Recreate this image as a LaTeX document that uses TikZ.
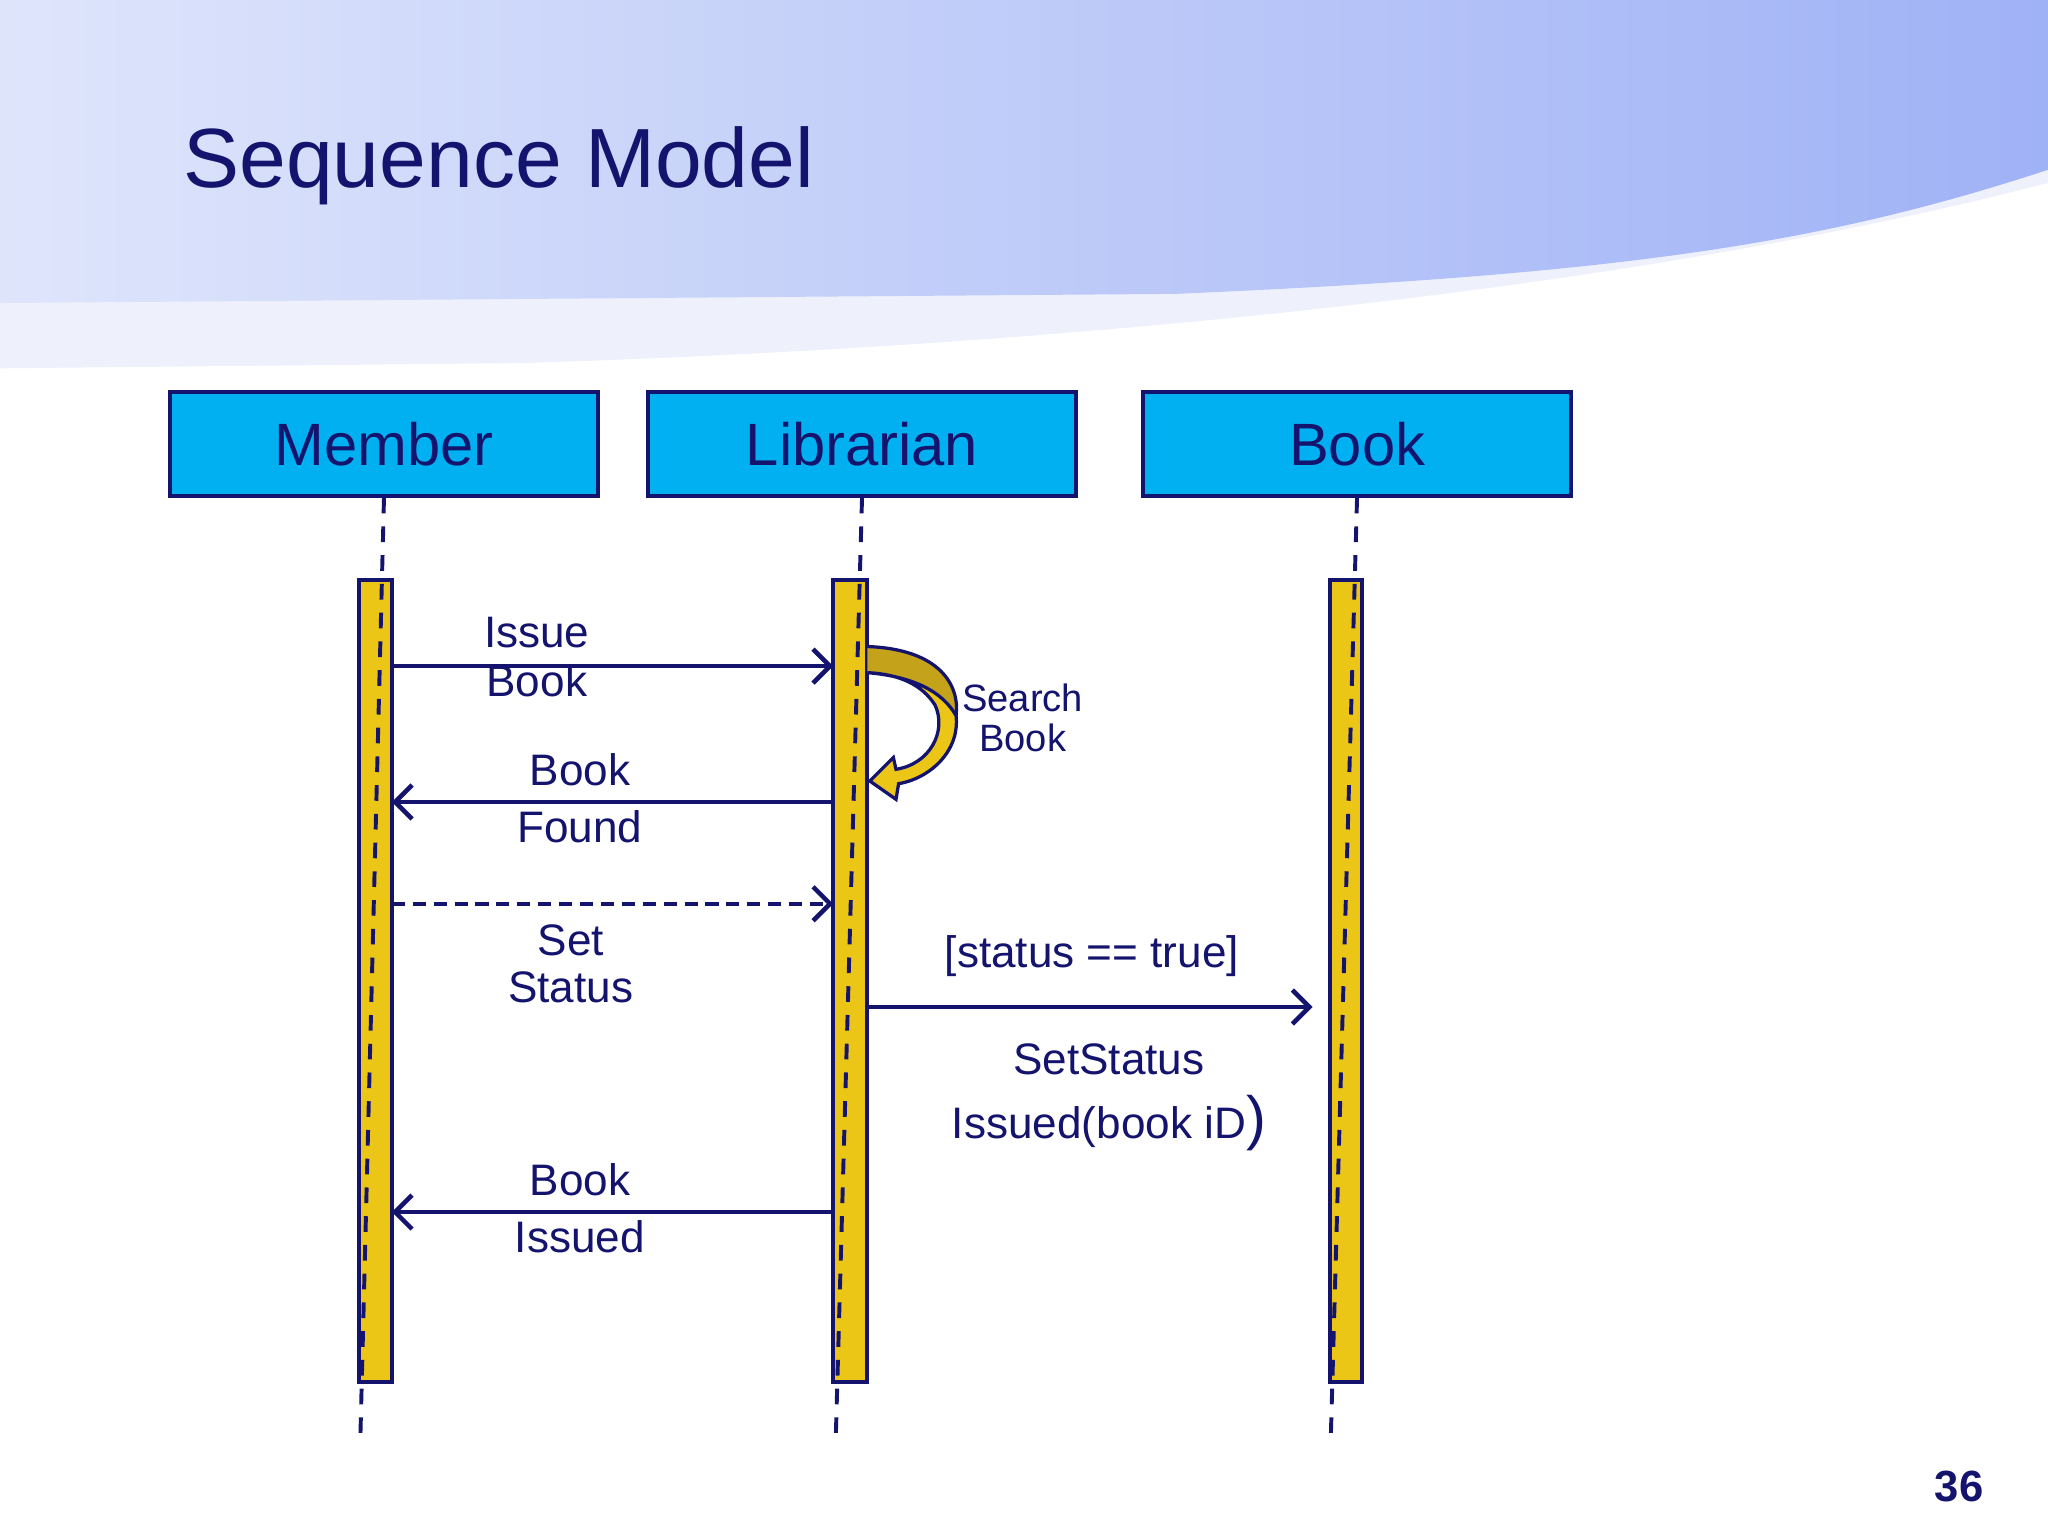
\documentclass[tikz,border=0pt]{standalone}
\usepackage{fontspec}
\setmainfont{Liberation Sans}
\usetikzlibrary{arrows.meta}
\definecolor{navy}{HTML}{14146E}
\definecolor{cyanbox}{HTML}{00B0F0}
\definecolor{ybar}{HTML}{ECC617}
\definecolor{olive}{HTML}{C4A21A}
\begin{document}
\begin{tikzpicture}[x=0.01cm,y=-0.01cm,
  obj/.style={draw=navy,line width=0.03cm,fill=cyanbox,minimum width=3.27cm,minimum height=0.79cm,text=navy,font=\fontsize{13}{15}\selectfont},
  bar/.style={draw=navy,line width=0.03cm,fill=ybar},
  life/.style={navy,line width=0.03cm,dash pattern=on 0.12cm off 0.1cm},
  msg/.style={navy,line width=0.035cm,-{Straight Barb[length=0.13cm,width=0.26cm]}},
  lbl/.style={text=navy,font=\fontsize{9.6}{11}\selectfont,align=center}]
\useasboundingbox (0,0) rectangle (1568,1176);
% background
\fill[white] (0,0) rectangle (1568,1176);
\fill[color={rgb,255:red,238;green,241;blue,252}] (0,225) -- (0,282) -- (400,278) .. controls (900,262) and (1300,210) .. (1568,140) -- (1568,120) -- cycle;
\shade[left color={rgb,255:red,222;green,229;blue,251},right color={rgb,255:red,160;green,178;blue,246}] (0,0) -- (1568,0) -- (1568,130) .. controls (1400,185) and (1250,210) .. (900,225) -- (0,232) -- cycle;
\node[anchor=west,text=navy,font=\fontsize{18.3}{22}\selectfont] (title) at (128,127) {Sequence Model};
% objects
\node[obj] (m) at (294,340) {Member};
\node[obj] (l) at (660,340) {Librarian};
\node[obj] (b) at (1039,340) {Book};
% bars
\draw[bar] (275,444) rectangle (300,1058);
\draw[bar] (638,444) rectangle (664,1058);
\draw[bar] (1018,444) rectangle (1043,1058);
\coordinate (me) at (276,1097);
\coordinate (le) at (640,1097);
\coordinate (be) at (1019,1097);
\draw[life] (m.south) -- (me);
\draw[life] (l.south) -- (le);
\draw[life] (b.south) -- (be);
% messages
\coordinate (a1) at (300,510); \coordinate (a2) at (638,510);
\draw[msg] (a1) -- (a2);
\node[lbl] at (411,484) {Issue};
\node[lbl] at (411,521) {Book};
\coordinate (b1) at (638,614); \coordinate (b2) at (300,614);
\draw[msg] (b1) -- (b2);
\node[lbl] at (444,589) {Book};
\node[lbl] at (444,633) {Found};
\coordinate (c1) at (300,692); \coordinate (c2) at (638,692);
\draw[msg,dash pattern=on 0.1cm off 0.06cm] (c1) -- (c2);
\node[lbl] at (437,720) {Set};
\node[lbl] at (437,756) {Status};
\coordinate (d1) at (664,771); \coordinate (d2) at (1005,771);
\draw[msg] (d1) -- (d2);
\node[lbl] at (836,732) {[status == true]};
\node[lbl] at (849,811) {SetStatus};
\node[lbl] at (849,860) {Issued(book iD{\fontsize{13}{13}\selectfont)}};
\coordinate (e1) at (638,928); \coordinate (e2) at (300,928);
\draw[msg] (e1) -- (e2);
\node[lbl] at (444,903) {Book};
\node[lbl] at (444,947) {Issued};
% self call
\fill[olive] (664,495) .. controls (720,497) and (735,525) .. (732,548) .. controls (722,530) and (700,518) .. (664,515) -- cycle;
\draw[navy,line width=0.025cm,fill=ybar] (664,515) .. controls (700,518) and (722,530) .. (732,548) .. controls (735,575) and (712,596) .. (688,600) -- (686,612) -- (666,598) -- (684,580) -- (686,589) .. controls (712,585) and (725,560) .. (716,540) .. controls (706,524) and (688,516) .. (664,515);
\draw[navy,line width=0.025cm] (664,495) .. controls (720,497) and (735,525) .. (732,548);
\node[lbl,font=\fontsize{8.3}{10}\selectfont] at (783,534) {Search};
\node[lbl,font=\fontsize{8.3}{10}\selectfont] at (783,565) {Book};
\node[text=navy,font=\fontsize{9.5}{12}\selectfont\bfseries] (pg) at (1500,1138) {36};
\end{tikzpicture}
\end{document}
